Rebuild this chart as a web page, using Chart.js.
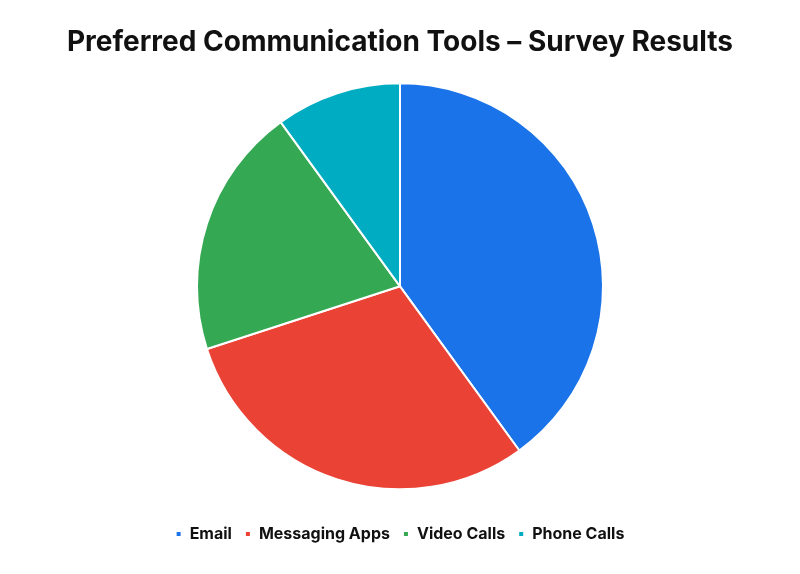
<!DOCTYPE html>
<html>
<head>
<meta charset="utf-8">
<script src="https://cdn.jsdelivr.net/npm/chart.js@4.4.0/dist/chart.umd.min.js"></script>
<style>
  html, body { margin: 0; padding: 0; background: #ffffff; }
  #wrap { width: 800px; height: 574px; }
</style>
</head>
<body>
<div id="wrap"><canvas id="pieChart"></canvas></div>
<script>
// Survey data
const categories = ['Email', 'Messaging Apps', 'Video Calls', 'Phone Calls'];
const shares = [40, 30, 20, 10];
const sliceColors = ['#1a73e8', '#ea4335', '#34a853', '#00acc1'];

document.addEventListener('DOMContentLoaded', function() {
    const ctx = document.getElementById('pieChart');

    Chart.defaults.font.family = "'Inter', 'Open Sans', sans-serif";
    Chart.defaults.color = '#111111';

    new Chart(ctx, {
        type: 'pie',
        data: {
            labels: categories,
            datasets: [{
                data: shares,
                backgroundColor: sliceColors,
                borderColor: '#ffffff',
                borderWidth: 2,
                radius: 203
            }]
        },
        options: {
            responsive: true,
            maintainAspectRatio: false,
            animation: false,
            layout: { padding: { top: 4, bottom: 22 } },
            plugins: {
                title: {
                    display: true,
                    text: 'Preferred Communication Tools \u2013 Survey Results',
                    color: '#111111',
                    font: { size: 28, weight: 'bold' },
                    padding: { top: 22, bottom: 0 }
                },
                legend: {
                    position: 'bottom',
                    labels: {
                        usePointStyle: true,
                        pointStyle: 'rect',
                        boxWidth: 6,
                        boxHeight: 6,
                        padding: 13,
                        color: '#111111',
                        font: { size: 16, weight: 'bold' }
                    }
                },
                tooltip: { enabled: false }
            }
        }
    });
});
</script>
</body>
</html>
